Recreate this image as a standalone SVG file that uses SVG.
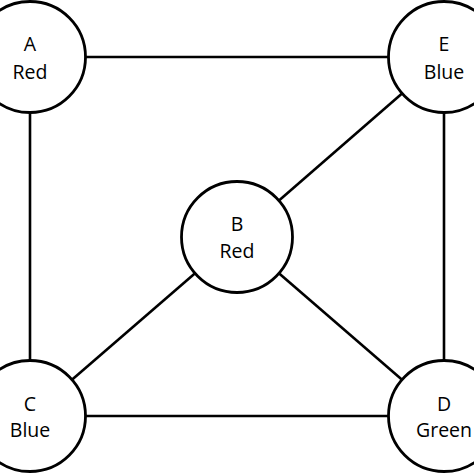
<svg xmlns="http://www.w3.org/2000/svg" width="474" height="474" viewBox="0 0 474 474">
<style>
.edge{stroke:#000;stroke-width:2.6;fill:none}
.node circle{fill:#fff;stroke:#000;stroke-width:2.8}
.node text{font-family:"Open Sans","Noto Sans",sans-serif;font-size:19.5px;fill:#000;text-anchor:middle}
</style>
<rect width="474" height="474" fill="#fff"/>
<g id="edges">
<line class="edge" x1="30" y1="57" x2="444" y2="57"/>
<line class="edge" x1="30" y1="57" x2="30" y2="416"/>
<line class="edge" x1="444" y1="57" x2="444" y2="416"/>
<line class="edge" x1="30" y1="416" x2="444" y2="416"/>
<line class="edge" x1="237" y1="237" x2="444" y2="57"/>
<line class="edge" x1="237" y1="237" x2="30" y2="416"/>
<line class="edge" x1="237" y1="237" x2="444" y2="416"/>
</g>
<g id="A" class="node"><circle cx="30" cy="57" r="55.5"/><text x="30" y="51">A</text><text x="30" y="79">Red</text></g>
<g id="E" class="node"><circle cx="444" cy="57" r="55.5"/><text x="444" y="51">E</text><text x="444" y="79">Blue</text></g>
<g id="B" class="node"><circle cx="237" cy="237" r="55.5"/><text x="237" y="231">B</text><text x="237" y="258">Red</text></g>
<g id="C" class="node"><circle cx="30" cy="416" r="55.5"/><text x="30" y="411">C</text><text x="30" y="437">Blue</text></g>
<g id="D" class="node"><circle cx="444" cy="416" r="55.5"/><text x="444" y="411">D</text><text x="444" y="437">Green</text></g>
</svg>
